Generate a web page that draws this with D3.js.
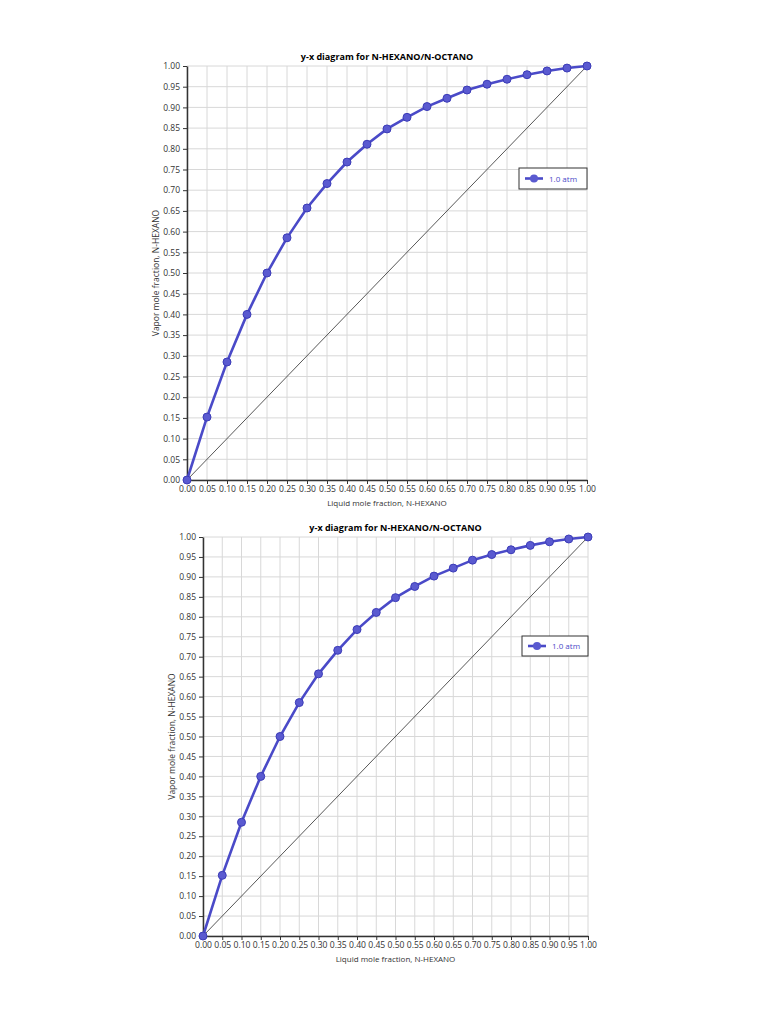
<!DOCTYPE html>
<html><head><meta charset="utf-8">
<script src="https://cdn.jsdelivr.net/npm/d3@7"></script>
<style>body{margin:0;background:#fff}text{font-family:"Open Sans",sans-serif}</style>
</head><body><svg id="s" width="768" height="1024"></svg>
<script>
const xVals=[0,0.05,0.10,0.15,0.20,0.25,0.30,0.35,0.40,0.45,0.50,0.55,0.60,0.65,0.70,0.75,0.80,0.85,0.90,0.95,1.00];
const yVals=[0,0.152,0.285,0.400,0.500,0.585,0.657,0.716,0.768,0.811,0.848,0.876,0.902,0.922,0.942,0.956,0.968,0.979,0.988,0.995,1.000];
const tickVals=d3.range(0,21).map(i=>i*0.05);
const title="y-x diagram for N-HEXANO/N-OCTANO";
const xLabel="Liquid mole fraction, N-HEXANO";
const yLabel="Vapor mole fraction, N-HEXANO";
const seriesName="1.0 atm";
const svg=d3.select("#s");
function chart(L,R,T,B,lg){
  const x=d3.scaleLinear().domain([0,1]).range([L,R]);
  const y=d3.scaleLinear().domain([0,1]).range([B,T]);
  const g=svg.append("g");
  tickVals.forEach(v=>{
    g.append("line").attr("x1",x(v)).attr("x2",x(v)).attr("y1",T).attr("y2",B).attr("stroke","#d8d8d8");
    g.append("line").attr("x1",L).attr("x2",R).attr("y1",y(v)).attr("y2",y(v)).attr("stroke","#d8d8d8");
  });
  const fmt=d3.format(".2f");
  const xa=g.append("g").attr("transform",`translate(0,${B})`).call(d3.axisBottom(x).tickValues(tickVals).tickFormat(fmt).tickSize(4).tickSizeOuter(0));
  const ya=g.append("g").attr("transform",`translate(${L},0)`).call(d3.axisLeft(y).tickValues(tickVals).tickFormat(fmt).tickSize(4).tickSizeOuter(0));
  [xa,ya].forEach(a=>{a.selectAll("text").attr("font-size",8.5).attr("fill","#333");a.select(".domain").attr("stroke","#333").attr("stroke-width",1.5);a.selectAll(".tick line").attr("stroke","#333")});
  xa.selectAll("text").attr("dy","0.6em").attr("textLength",17).attr("lengthAdjust","spacingAndGlyphs");
  g.append("line").attr("x1",x(0)).attr("y1",y(0)).attr("x2",x(1)).attr("y2",y(1)).attr("stroke","#444").attr("stroke-width",0.9);
  const line=d3.line().x((d,i)=>x(xVals[i])).y(d=>y(d));
  g.append("path").datum(yVals).attr("d",line).attr("fill","none").attr("stroke","#4a4ac8").attr("stroke-width",2.6);
  g.selectAll("circle.p").data(yVals).join("circle").attr("cx",(d,i)=>x(xVals[i])).attr("cy",d=>y(d)).attr("r",4).attr("fill","#5a5ad0").attr("stroke","#3c3cb8");
  g.append("text").attr("x",(L+R)/2).attr("y",T-6).attr("text-anchor","middle").attr("font-size",9).attr("font-weight","bold").text(title);
  g.append("text").attr("x",(L+R)/2).attr("y",B+26).attr("text-anchor","middle").attr("font-size",8).attr("fill","#333").text(xLabel);
  g.append("text").attr("transform",`translate(${L-28},${(T+B)/2}) rotate(-90)`).attr("text-anchor","middle").attr("font-size",8.5).attr("fill","#333").text(yLabel);
  g.append("rect").attr("x",lg[0]).attr("y",lg[1]).attr("width",lg[2]).attr("height",lg[3]).attr("fill","#fff").attr("stroke","#333");
  const cy=lg[1]+lg[3]/2;
  g.append("line").attr("x1",lg[0]+6).attr("x2",lg[0]+24).attr("y1",cy).attr("y2",cy).attr("stroke","#4a4ac8").attr("stroke-width",2.6);
  g.append("circle").attr("cx",lg[0]+15).attr("cy",cy).attr("r",4).attr("fill","#5a5ad0");
  g.append("text").attr("x",lg[0]+30).attr("y",cy+3).attr("font-size",8).attr("fill","#4a4ac8").text(seriesName);
}
chart(187,587,66,480,[519,168,68,21]);
chart(203,588,537,936,[522,636,66,20]);
</script></body></html>
